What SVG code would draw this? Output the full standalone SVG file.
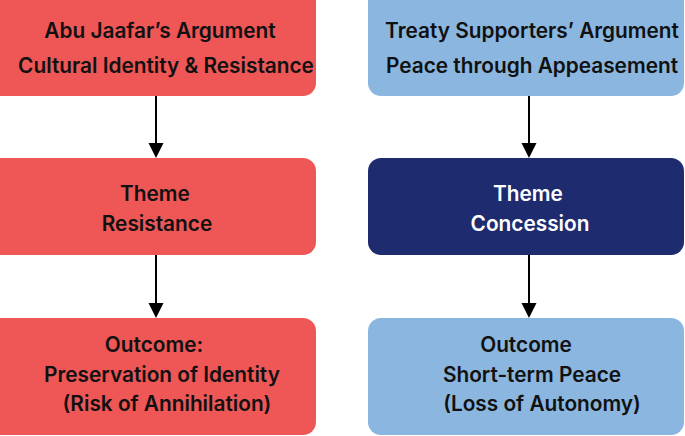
<svg xmlns="http://www.w3.org/2000/svg" width="685" height="436" viewBox="0 0 685 436">
<style>
.red{fill:#ef5656}
.blue{fill:#8ab6df}
.navy{fill:#1e2b6f}
text{font-family:Inter,"Noto Sans","Liberation Sans",sans-serif;font-weight:600;font-size:20.8px;text-anchor:middle;fill:#111}
.w{fill:#ffffff}
.conn line{stroke:#000;stroke-width:2}
</style>
<rect width="685" height="436" fill="#ffffff"/>
<g id="conn" class="conn">
<line x1="156" y1="96" x2="156" y2="143"/>
<path d="M148.5,143 L163.5,143 L156,158 Z" fill="#000"/>
<line x1="156" y1="255" x2="156" y2="303"/>
<path d="M148.5,303 L163.5,303 L156,318 Z" fill="#000"/>
<line x1="529" y1="96" x2="529" y2="143"/>
<path d="M521.5,143 L536.5,143 L529,158 Z" fill="#000"/>
<line x1="529" y1="255" x2="529" y2="303"/>
<path d="M521.5,303 L536.5,303 L529,318 Z" fill="#000"/>
</g>
<g id="n1">
<rect class="red" x="-14" y="-12" width="330" height="108" rx="13"/>
<text x="160" y="38">Abu Jaafar’s Argument</text>
<text x="166" y="73">Cultural Identity &amp; Resistance</text>
</g>
<g id="n2">
<rect class="red" x="-14" y="158" width="330" height="97" rx="13"/>
<text x="155" y="201">Theme</text>
<text x="157" y="231">Resistance</text>
</g>
<g id="n3">
<rect class="red" x="-14" y="318" width="330" height="117" rx="13"/>
<text x="154" y="352">Outcome:</text>
<text x="162" y="382">Preservation of Identity</text>
<text x="167" y="411">(Risk of Annihilation)</text>
</g>
<g id="n4">
<rect class="blue" x="368" y="-12" width="316" height="108" rx="13"/>
<text x="532" y="38">Treaty Supporters’ Argument</text>
<text x="532" y="73">Peace through Appeasement</text>
</g>
<g id="n5">
<rect class="navy" x="368" y="158" width="316" height="97" rx="13"/>
<text class="w" x="528" y="201">Theme</text>
<text class="w" x="530" y="231">Concession</text>
</g>
<g id="n6">
<rect class="blue" x="368" y="318" width="316" height="117" rx="13"/>
<text x="526" y="352">Outcome</text>
<text x="532" y="382">Short-term Peace</text>
<text x="542" y="411">(Loss of Autonomy)</text>
</g>
</svg>
